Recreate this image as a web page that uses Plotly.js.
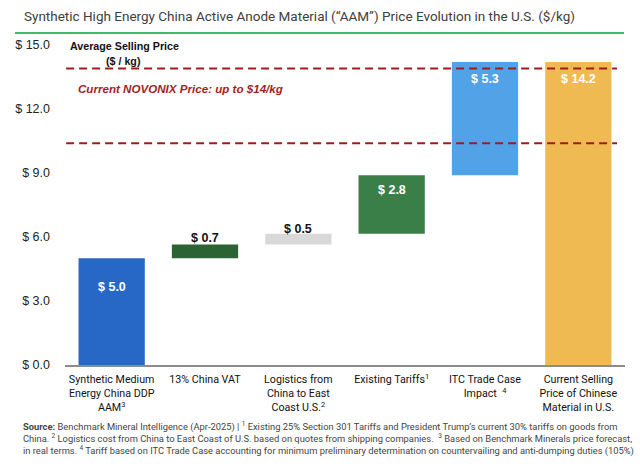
<!DOCTYPE html>
<html>
<head>
<meta charset="utf-8">
<script src="https://cdn.plot.ly/plotly-3.0.1.min.js"></script>
<style>html,body{margin:0;padding:0;background:#fff;}#chart{width:640px;height:467px;}</style>
</head>
<body>
<div id="chart"></div>
<script>
// ---- data ----
var categories = [
  "Synthetic Medium<br>Energy China DDP<br>AAM<sup>3</sup>",
  "13% China VAT",
  "Logistics from<br>China to East<br>Coast U.S.<sup>2</sup>",
  "Existing Tariffs<sup>1</sup>",
  "ITC Trade Case<br>Impact  <sup>4</sup>",
  "Current Selling<br>Price of Chinese<br>Material in U.S."
];
var measures = ["absolute", "relative", "relative", "relative", "relative", "total"];
var values = [5.0, 0.65, 0.5, 2.75, 5.3, 14.2];
var valueLabels = ["$ 5.0", "$ 0.7", "$ 0.5", "$ 2.8", "$ 5.3", "$ 14.2"];
var priceBandLow = 10.4;
var priceBandHigh = 13.9;
var yTicks = [0, 3, 6, 9, 12, 15];
var yTickText = ["$ 0.0", "$ 3.0", "$ 6.0", "$ 9.0", "$ 12.0", "$ 15.0"];

// ---- styles ----
var barColors = ["#2767c6", "#2b6334", "#d9d9d9", "#3b7f48", "#52a2e8", "#f0ba52"];
var labelColors = ["#ffffff", "#111111", "#111111", "#ffffff", "#ffffff", "#ffffff"];
var labelShift = [-29, 6, 5, -15, -17, -17];
var FONT = "Liberation Sans, Arial, sans-serif";
var NARROW = "Roboto, Liberation Sans, Arial, sans-serif";

// waterfall bases
var bases = [], tops = [], run = 0;
for (var i = 0; i < values.length; i++) {
  if (measures[i] === "absolute") { bases.push(0); run = values[i]; }
  else if (measures[i] === "relative") { bases.push(run); run += values[i]; }
  else { bases.push(0); }
  tops.push(bases[i] + values[i]);
}
var xs = categories.map(function (_, i) { return i; });

var trace = {
  type: "bar",
  x: xs,
  y: values,
  base: bases,
  marker: { color: barColors, line: { width: 0 } },
  hoverinfo: "skip"
};

var annotations = valueLabels.map(function (t, i) {
  return {
    x: xs[i], y: tops[i], xref: "x", yref: "y",
    text: "<b>" + t + "</b>", showarrow: false,
    yanchor: "middle", yshift: labelShift[i],
    font: { family: FONT, size: 12.5, color: labelColors[i] }
  };
});

annotations.push({
  xref: "paper", yref: "paper", x: (68 - 65) / 560, y: (365 - 46) / 320,
  xanchor: "left", yanchor: "middle", showarrow: false,
  text: "<b>Average Selling Price</b>",
  font: { family: FONT, size: 10.7, color: "#111" }
});
annotations.push({
  xref: "paper", yref: "paper", x: (123 - 65) / 560, y: (365 - 61) / 320,
  xanchor: "center", yanchor: "middle", showarrow: false,
  text: "<b>($ / kg)</b>",
  font: { family: FONT, size: 10.7, color: "#111" }
});
annotations.push({
  xref: "paper", yref: "paper", x: (76 - 65) / 560, y: (365 - 89) / 320,
  xanchor: "left", yanchor: "middle", showarrow: false,
  text: "<b><i>Current NOVONIX Price: up to $14/kg</i></b>",
  font: { family: FONT, size: 11.6, color: "#a31f24" }
});
annotations.push({
  xref: "paper", yref: "paper", x: (21 - 65) / 560, y: (365 - 418) / 320,
  xanchor: "left", yanchor: "top", align: "left", showarrow: false,
  text: "<b>Source:</b> Benchmark Mineral Intelligence (Apr-2025) | <sup>1</sup> Existing 25% Section 301 Tariffs and President Trump\u2019s current 30% tariffs on goods from<br>China. <sup>2</sup> Logistics cost from China to East Coast of U.S. based on quotes from shipping companies.  <sup>3</sup> Based on Benchmark Minerals price forecast,<br>in real terms. <sup>4</sup> Tariff based on ITC Trade Case accounting for minimum preliminary determination on countervailing and anti-dumping duties (105%)",
  font: { family: NARROW, size: 9.35, color: "#444" }
});

var shapes = [
  { type: "line", xref: "paper", yref: "y", x0: 0.002, x1: (617 - 65) / 560, y0: priceBandHigh, y1: priceBandHigh,
    line: { color: "#a01c1c", width: 2, dash: "8px,5px" } },
  { type: "line", xref: "paper", yref: "y", x0: 0.002, x1: (617 - 65) / 560, y0: priceBandLow, y1: priceBandLow,
    line: { color: "#a01c1c", width: 2, dash: "8px,5px" } },
  { type: "line", xref: "paper", yref: "paper", x0: (15 - 65) / 560, x1: (624 - 65) / 560, y0: (365 - 33) / 320, y1: (365 - 33) / 320,
    line: { color: "#3dba6d", width: 2 } }
];

var layout = {
  width: 640, height: 467,
  margin: { l: 65, r: 15, t: 45, b: 102 },
  paper_bgcolor: "#ffffff", plot_bgcolor: "#ffffff",
  showlegend: false,
  bargap: 0.29,
  title: {
    text: "Synthetic High Energy China Active Anode Material (\u201cAAM\u201d) Price Evolution in the U.S. ($/kg)",
    x: 24 / 640, xanchor: "left", xref: "container",
    y: 1 - 16 / 467, yanchor: "middle", yref: "container",
    font: { family: NARROW, size: 13.5, color: "#404040" }
  },
  xaxis: {
    range: [-0.5, 5.5], tickvals: xs, ticktext: categories, tickangle: 0,
    showline: true, linecolor: "#8c8c8c", linewidth: 1.5,
    showgrid: false, zeroline: false, ticks: "",
    ticklabelstandoff: 4,
    tickfont: { family: NARROW, size: 10.7, color: "#111" },
    fixedrange: true
  },
  yaxis: {
    range: [0, 15], tickvals: yTicks, ticktext: yTickText,
    showgrid: false, zeroline: false, showline: false, ticks: "",
    ticklabelstandoff: 14,
    tickfont: { family: FONT, size: 12.5, color: "#222" },
    fixedrange: true
  },
  annotations: annotations,
  shapes: shapes
};

Plotly.newPlot("chart", [trace], layout, { displayModeBar: false, staticPlot: true });
</script>
</body>
</html>
